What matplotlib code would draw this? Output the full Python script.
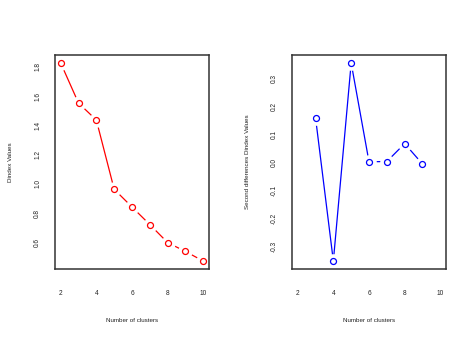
import matplotlib
matplotlib.use("Agg")
import matplotlib.pyplot as plt

plt.rcParams["font.family"] = ["Liberation Sans", "DejaVu Sans"]

clusters = [2, 3, 4, 5, 6, 7, 8, 9, 10]
dindex = [1.825, 1.552, 1.436, 0.964, 0.843, 0.723, 0.600, 0.540, 0.474]

clusters_diff = [3, 4, 5, 6, 7, 8, 9]
second_diff = [0.159, -0.354, 0.354, 0.001, 0.002, 0.066, -0.007]

x_ticks = [2, 4, 6, 8, 10]
left_yticks = [0.6, 0.8, 1.0, 1.2, 1.4, 1.6, 1.8]
right_yticks = [-0.3, -0.2, -0.1, 0.0, 0.1, 0.2, 0.3]


def r_style_panel(ax, x, y, color, yticks, ylabel):
    # line with gaps around points, like R's type = "b"
    ax.plot(x, y, color=color, linewidth=0.9, zorder=1)
    ax.plot(x, y, linestyle="none", marker="o", markersize=9.5,
            markerfacecolor="white", markeredgecolor="white", zorder=2)
    ax.plot(x, y, linestyle="none", marker="o", markersize=4.3,
            markerfacecolor="white", markeredgecolor=color,
            markeredgewidth=0.9, zorder=3)
    ax.set_xlim(1.68, 10.32)
    span = max(y) - min(y)
    ax.set_ylim(min(y) - 0.04 * span, max(y) + 0.04 * span)
    ax.set_xticks(x_ticks)
    ax.set_yticks(yticks)
    ax.set_yticklabels([f"{v:.1f}" for v in yticks])
    ax.tick_params(axis="both", length=0, labelsize=4.7, colors="#222222")
    ax.tick_params(axis="x", pad=15)
    ax.tick_params(axis="y", pad=10, labelrotation=90)
    for lbl in ax.get_yticklabels():
        lbl.set_verticalalignment("center")
    for sp in ax.spines.values():
        sp.set_color("#333333")
        sp.set_linewidth(1.1)
    ax.set_xlabel("Number of clusters", fontsize=4.5, color="#222222")
    ax.set_ylabel(ylabel, fontsize=4.5, color="#222222")
    ax.xaxis.set_label_coords(0.5, -0.229)
    ax.yaxis.set_label_coords(-0.275, 0.5)


fig = plt.figure(figsize=(4.74, 3.38), dpi=100)
ax1 = fig.add_axes([0.116, 0.204, 0.325, 0.633])
ax2 = fig.add_axes([0.616, 0.204, 0.325, 0.633])

r_style_panel(ax1, clusters, dindex, "red", left_yticks, "Dindex Values")
r_style_panel(ax2, clusters_diff, second_diff, "blue", right_yticks,
              "Second differences Dindex Values")

fig.savefig("out.png", dpi=100)
